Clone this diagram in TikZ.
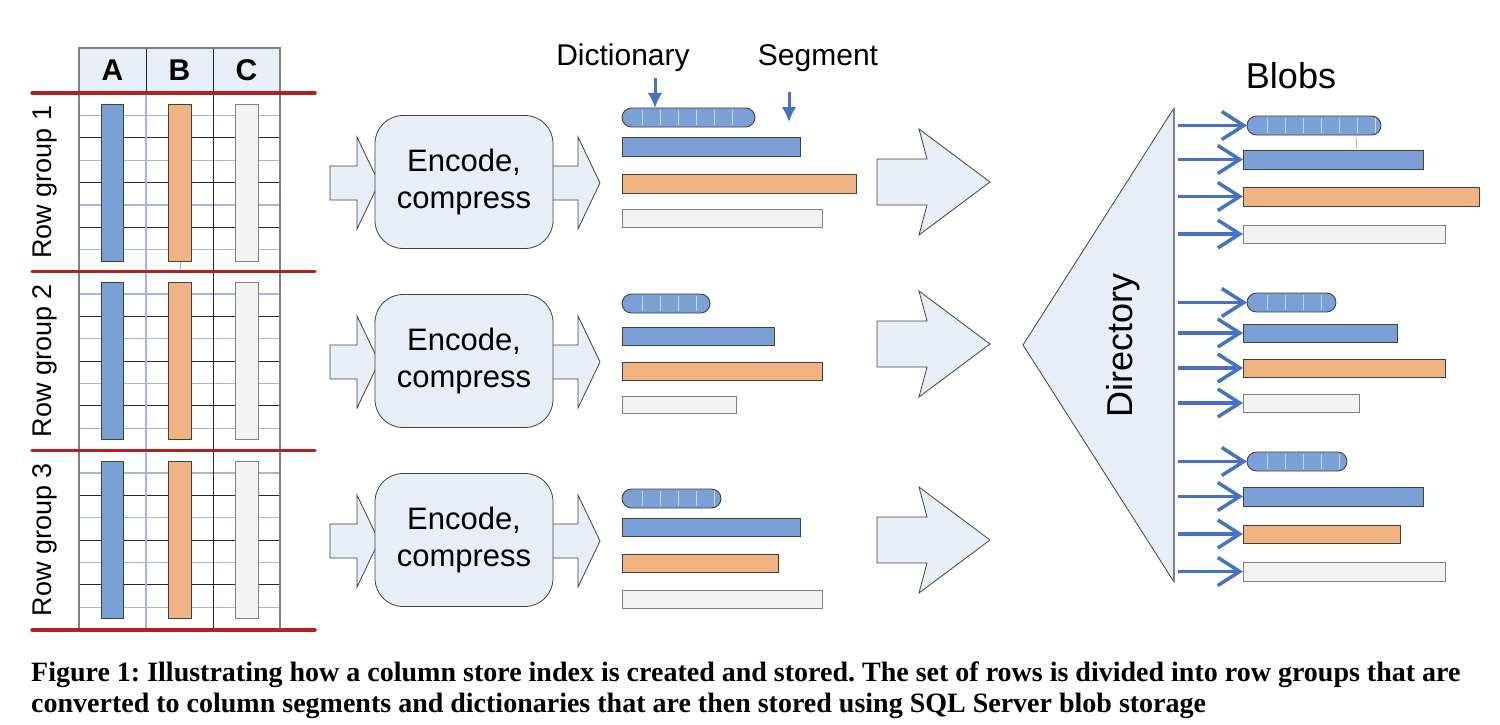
\documentclass[tikz,border=0pt]{standalone}
\usepackage{fontspec}
\setmainfont{Liberation Sans}
\newfontfamily\capfont{Liberation Serif}
\usetikzlibrary{arrows.meta}
\definecolor{lightfill}{RGB}{231,238,248}
\definecolor{barblue}{RGB}{122,160,214}
\definecolor{barorange}{RGB}{240,180,131}
\definecolor{bargray}{RGB}{242,242,242}
\definecolor{redline}{RGB}{178,32,32}
\definecolor{arrowblue}{RGB}{70,114,196}
\definecolor{gridblue}{RGB}{160,184,222}
\definecolor{edgegray}{RGB}{64,64,64}
\definecolor{bordergray}{RGB}{128,128,128}
\tikzset{
  box/.style={draw=edgegray, line width=0.9pt, inner sep=0pt, outer sep=0pt, anchor=north west},
  bblue/.style={box, fill=barblue},
  borange/.style={box, fill=barorange},
  bgray/.style={box, fill=bargray, draw=bordergray},
  dict/.style={box, fill=barblue, rounded corners=9.5pt},
  stripe/.style={draw=white, line width=1pt, opacity=0.6},
  gridthin/.style={draw=gridblue, line width=1.2pt},
  gridblack/.style={draw=black!85, line width=1pt},
  redrule/.style={draw=redline, line width=3.5pt, line cap=round},
  shapefill/.style={fill=lightfill, draw=edgegray, line width=0.8pt},
  enc/.style={shapefill, rounded corners=28pt, minimum width=178, minimum height=133, inner sep=0pt, align=center, font=\fontsize{31}{37}\selectfont},
  rowlab/.style={rotate=90, font=\fontsize{27}{30}\selectfont, inner sep=0pt},
  headlab/.style={font=\bfseries\fontsize{30}{32}\selectfont, inner sep=0pt},
  toplab/.style={font=\fontsize{30}{32}\selectfont, inner sep=0pt},
  blobarrow/.style={draw=arrowblue, line width=3.5pt, -{Straight Barb[length=22pt, width=28pt, line width=3.5pt]}},
  labarrow/.style={draw=arrowblue, line width=3pt, -{Latex[length=15pt, width=15pt]}},
  capstyle/.style={anchor=base west, inner sep=0pt, font=\capfont\bfseries\fontsize{28}{30}\selectfont}
}
\newcommand\dictbar[4]{%
  \node[dict, minimum width={#4-#2}, minimum height=19] (#1) at (#2,#3) {};
  \pgfmathsetmacro\sa{#2+20}\pgfmathsetmacro\sb{#2+38}\pgfmathsetmacro\se{#4-6}%
  \foreach \sx in {\sa,\sb,...,\se} \draw[stripe] (\sx,#3+2) -- (\sx,#3+17);
}
\begin{document}
\frenchspacing
\begin{tikzpicture}[x=1pt, y=-1pt]
\useasboundingbox (0,0) rectangle (1500,725);
% ---------- table ----------
\fill[lightfill] (79,48) rectangle (280,93);
\foreach \yo in {93,271.5,450.5} {
  \foreach \k in {1,3,5,7} \draw[gridthin] (79,\yo+22.4*\k) -- (280,\yo+22.4*\k);
  \foreach \k in {2,4,6} \draw[gridblack] (79,\yo+22.4*\k) -- (280,\yo+22.4*\k);
}
\draw[gridthin] (146,93) -- (146,630);
\draw[gridblack] (146,48) -- (146,93);
\draw[gridblack] (213,48) -- (213,630);
\draw[draw=bordergray, line width=1.8pt] (79,630) -- (79,48) -- (280,48) -- (280,630);
\draw[gridthin, line width=0.8pt] (180,261) -- (180,271);
\node[headlab] (hA) at (112.5,70) {A};
\node[headlab] (hB) at (179.5,70) {B};
\node[headlab] (hC) at (246.5,70) {C};
\foreach \g/\yo in {1/93,2/271.5,3/450.5} {
  \node[bblue, minimum width=22, minimum height=157] (colA\g) at (101,\yo+11) {};
  \node[borange, minimum width=23, minimum height=157] (colB\g) at (168,\yo+11) {};
  \node[bgray, minimum width=23, minimum height=157] (colC\g) at (235,\yo+11) {};
  \node[rowlab] (rg\g) at (45,\yo+89) {Row group \g};
}
\foreach \y in {93,271.5,450.5,630} \draw[redrule] (32,\y) -- (315,\y);
% ---------- encode ----------
\foreach \g/\yc in {1/183,2/362,3/541} {
  \draw[shapefill] (330,\yc-17) -- (357,\yc-17) -- (357,\yc-46) -- (379,\yc) -- (357,\yc+46) -- (357,\yc+17) -- (330,\yc+17) -- cycle;
  \draw[shapefill] (545,\yc-17) -- (578,\yc-17) -- (578,\yc-46) -- (600,\yc) -- (578,\yc+46) -- (578,\yc+17) -- (545,\yc+17) -- cycle;
  \node[enc] (enc\g) at (464,\yc-1) {Encode,\\compress};
}
% ---------- segments ----------
\dictbar{d1}{622}{108}{755}
\node[bblue, minimum width=178, minimum height=19] (sa1) at (622,137) {};
\node[borange, minimum width=234, minimum height=19] (sb1) at (622,174) {};
\node[bgray, minimum width=200, minimum height=18] (sc1) at (622,209) {};
\dictbar{d2}{622}{294}{710}
\node[bblue, minimum width=152, minimum height=18] (sa2) at (622,327) {};
\node[borange, minimum width=200, minimum height=18] (sb2) at (622,362) {};
\node[bgray, minimum width=114, minimum height=17] (sc2) at (622,396) {};
\dictbar{d3}{622}{489}{721}
\node[bblue, minimum width=178, minimum height=18] (sa3) at (622,518) {};
\node[borange, minimum width=156, minimum height=18] (sb3) at (622,554) {};
\node[bgray, minimum width=200, minimum height=18] (sc3) at (622,590) {};
\node[toplab] (dictlab) at (623,58) {Dictionary};
\node[toplab] (seglab) at (818,58) {Segment};
\coordinate (dlstart) at (655,78);
\coordinate (slstart) at (789,92);
\coordinate (slend) at (789,122);
\draw[labarrow] (dlstart) -- (d1.north -| dlstart);
\draw[labarrow] (slstart) -- (slend);
% ---------- big arrows ----------
\foreach \t in {182,344,540} {
  \draw[shapefill] (877,\t-23) -- (927,\t-23) -- (919,\t-53) -- (990,\t) -- (919,\t+53) -- (927,\t+23) -- (877,\t+23) -- cycle;
}
% ---------- directory ----------
\draw[shapefill] (1174,108) -- (1023,345) -- (1174,582) -- cycle;
\draw[draw=bordergray, line width=2pt] (1174,108) -- (1174,582);
\node[rotate=90, font=\fontsize{36}{40}\selectfont, inner sep=0pt] (dirlab) at (1123,345) {Directory};
\node[font=\fontsize{36}{40}\selectfont, inner sep=0pt] (bloblab) at (1291,76) {Blobs};
\coordinate (dirx) at (1178,0);
% ---------- blobs ----------
\dictbar{bd1}{1247}{116}{1381}
\node[bblue, minimum width=180, minimum height=19] (ba1) at (1243,150) {};
\node[borange, minimum width=236, minimum height=19] (bb1) at (1243,187) {};
\node[bgray, minimum width=202, minimum height=18] (bc1) at (1243,225) {};
\dictbar{bd2}{1247}{293}{1336}
\node[bblue, minimum width=154, minimum height=18] (ba2) at (1243,324) {};
\node[borange, minimum width=202, minimum height=18] (bb2) at (1243,359) {};
\node[bgray, minimum width=116, minimum height=18] (bc2) at (1243,394) {};
\dictbar{bd3}{1247}{452}{1347}
\node[bblue, minimum width=180, minimum height=19] (ba3) at (1243,487) {};
\node[borange, minimum width=157, minimum height=18] (bb3) at (1243,525) {};
\node[bgray, minimum width=202, minimum height=19] (bc3) at (1243,562) {};
\draw[gridthin, line width=0.8pt] (1356,138) -- (1356,149);
\foreach \n in {bd1,ba1,bb1,bc1,bd2,ba2,bb2,bc2,bd3,ba3,bb3,bc3}
  \draw[blobarrow] (\n.west -| dirx) -- (\n.west);
% ---------- caption ----------
\node[capstyle] (cap1) at (31,681) {Figure 1: Illustrating how a column store index is created and stored. The set of rows is divided into row groups that are};
\node[capstyle] (cap2) at (31,712) {converted to column segments and dictionaries that are then stored using SQL Server blob storage};
\end{tikzpicture}
\end{document}
